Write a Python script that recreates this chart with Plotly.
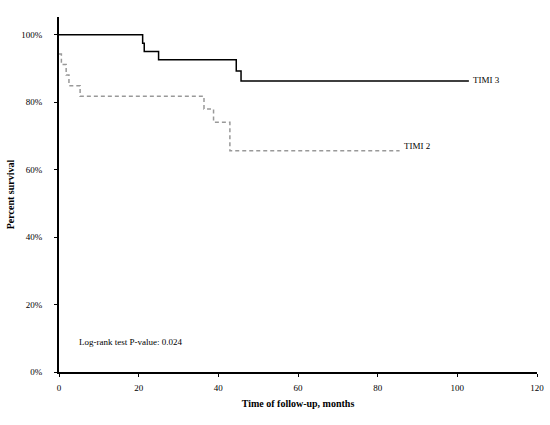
import plotly.graph_objects as go

# Kaplan-Meier step points (months, % surviving)
timi3_months = [0, 21.0, 21.4, 25.0, 44.5, 45.7, 102.9]
timi3_surv = [100, 97.5, 95.1, 92.6, 89.3, 86.3, 86.3]

timi2_months = [0, 0.6, 1.8, 2.5, 5.3, 36.4, 38.8, 42.9, 85.5]
timi2_surv = [94.3, 91.2, 88.1, 84.9, 81.8, 78.0, 74.1, 65.6, 65.6]

x_ticks = [0, 20, 40, 60, 80, 100, 120]
y_ticks = [0, 20, 40, 60, 80, 100]
y_labels = ["0%", "20%", "40%", "60%", "80%", "100%"]

serif = "Liberation Serif, Times New Roman, serif"

fig = go.Figure()

fig.add_trace(
    go.Scatter(
        x=timi3_months,
        y=timi3_surv,
        mode="lines",
        line=dict(shape="hv", color="black", width=1.5),
        name="TIMI 3",
        showlegend=False,
    )
)

fig.add_trace(
    go.Scatter(
        x=timi2_months,
        y=timi2_surv,
        mode="lines",
        line=dict(shape="hv", color="#999999", width=1.5, dash="4px,3px"),
        name="TIMI 2",
        showlegend=False,
    )
)

# curve labels at the end of each line
fig.add_annotation(x=timi3_months[-1], y=timi3_surv[-1], text="TIMI 3",
                   xanchor="left", xshift=2, yshift=1, showarrow=False)
fig.add_annotation(x=timi2_months[-1], y=timi2_surv[-1], text="TIMI 2",
                   xanchor="left", xshift=2, yshift=5, showarrow=False)
fig.add_annotation(x=4.4, y=8.9, text="Log-rank test P-value: 0.024",
                   xanchor="left", showarrow=False)

fig.update_layout(
    width=550,
    height=425,
    margin=dict(l=59, r=13, t=17, b=53),
    paper_bgcolor="white",
    plot_bgcolor="white",
    font=dict(family=serif, size=9, color="black"),
    xaxis=dict(
        range=[0, 120],
        tickvals=x_ticks,
        showgrid=False,
        zeroline=False,
        showline=True,
        linecolor="black",
        linewidth=2,
        ticks="outside",
        ticklen=3,
        tickcolor="black",
        ticklabelstandoff=3,
        automargin=False,
        tickfont=dict(family=serif, size=9),
        title=dict(text="<b>Time of follow-up, months</b>", standoff=8,
                   font=dict(family=serif, size=10)),
    ),
    yaxis=dict(
        range=[0, 105.3],
        tickvals=y_ticks,
        ticktext=y_labels,
        showgrid=False,
        zeroline=False,
        showline=True,
        linecolor="black",
        linewidth=2,
        ticks="outside",
        ticklen=3,
        tickcolor="black",
        ticklabelstandoff=10,
        automargin=False,
        tickfont=dict(family=serif, size=9),
        title=dict(text="<b>Percent survival</b>", standoff=5,
                   font=dict(family=serif, size=10)),
    ),
)

# drop the default 8px page margin so the figure fills the window exactly
fig.write_html(
    "out.html",
    config={"displayModeBar": False},
    post_script="document.body.style.margin='0';",
)
